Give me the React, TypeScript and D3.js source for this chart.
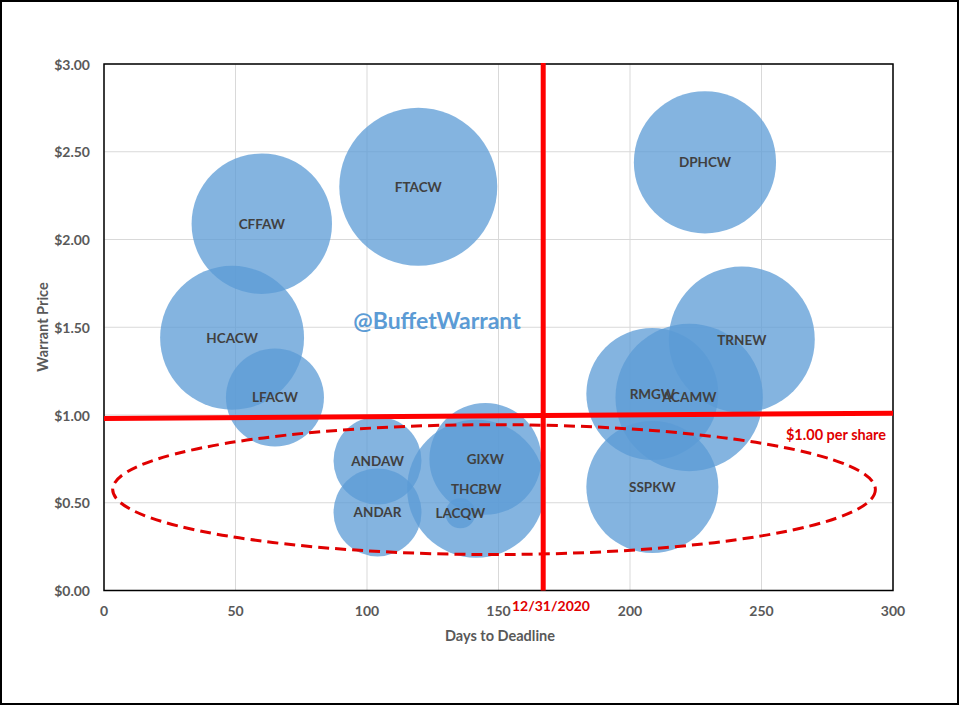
import React from "react";
import * as d3 from "d3";

const names = ["CFFAW", "FTACW", "DPHCW", "HCACW", "LFACW", "TRNEW", "RMGW", "ACAMW", "SSPKW", "ANDAW", "ANDAR", "GIXW", "THCBW", "LACQW"];
const days = [60, 119.5, 228.5, 48.7, 65, 242.5, 208.5, 222.5, 208.5, 104, 104, 145, 141.5, 135.5];
const prices = [2.09, 2.3, 2.44, 1.44, 1.1, 1.43, 1.12, 1.1, 0.59, 0.74, 0.445, 0.75, 0.58, 0.44];
const sizes = [79, 100, 81, 83, 38.5, 85.4, 69.8, 87, 69.8, 31, 31, 50.2, 76.3, 3.6];

const xTicks = [0, 50, 100, 150, 200, 250, 300];
const yTicks = [0, 0.5, 1, 1.5, 2, 2.5, 3];

const deadlineDay = 167;
const deadlineLabel = "12/31/2020";
const priceLine = [[0, 0.98], [300, 1.01]];
const priceLineLabel = "$1.00 per share";
const ellipseCenter = [148.3, 0.575];
const ellipseRadii = [145, 0.37];
const watermark = "@BuffetWarrant";

const W = 960, H = 720;
const L = 104, R = 893, T = 64, B = 590.5;
const font = "Lato, 'Open Sans', sans-serif";
const grey = "#595959";

export default function App() {
  const x = d3.scaleLinear().domain([0, 300]).range([L, R]);
  const y = d3.scaleLinear().domain([0, 3]).range([B, T]);
  const r = d3.scaleSqrt().domain([0, 100]).range([0, 79]);
  const fmt = (v: number) => "$" + d3.format(".2f")(v);
  const ex = x(ellipseCenter[0]), ey = y(ellipseCenter[1]);
  const erx = x(ellipseRadii[0]) - x(0), ery = y(0) - y(ellipseRadii[1]);

  return (
    <svg width={W} height={H} style={{ position: "absolute", left: 0, top: 0, display: "block" }} fontFamily={font}>
      <rect x={0} y={0} width={W} height={H} fill="#fff" />
      <rect x={1} y={1} width={957} height={703} fill="none" stroke="#000" strokeWidth={2} />
      {xTicks.map((t) => (
        <line key={"gx" + t} x1={x(t)} x2={x(t)} y1={T} y2={B} stroke="#d9d9d9" strokeWidth={1} />
      ))}
      {yTicks.map((t) => (
        <line key={"gy" + t} x1={L} x2={R} y1={y(t)} y2={y(t)} stroke="#d9d9d9" strokeWidth={1} />
      ))}
      <rect x={L} y={T} width={R - L} height={B - T} fill="none" stroke="#000" strokeWidth={1.5} />
      {names.map((n, i) => (
        <circle key={n} cx={x(days[i])} cy={y(prices[i])} r={r(sizes[i])} fill="#5B9BD5" fillOpacity={0.75} />
      ))}
      {names.map((n, i) => (
        <text key={"l" + n} x={x(days[i])} y={y(prices[i])} textAnchor="middle" dominantBaseline="central"
          fontSize={13.5} fontWeight="bold" fill="#404040">{n}</text>
      ))}
      <text x={437} y={320} textAnchor="middle" dominantBaseline="central" fontSize={23} fontWeight="bold" fill="#5B9BD5">{watermark}</text>
      <ellipse cx={ex} cy={ey} rx={erx} ry={ery} fill="none" stroke="#e00000" strokeWidth={3} strokeDasharray="11 6" />
      <line x1={x(priceLine[0][0])} y1={y(priceLine[0][1])} x2={x(priceLine[1][0])} y2={y(priceLine[1][1])} stroke="#ff0000" strokeWidth={5} />
      <line x1={x(deadlineDay)} x2={x(deadlineDay)} y1={T - 1} y2={B} stroke="#ff0000" strokeWidth={5} />
      <text x={836} y={434} textAnchor="middle" dominantBaseline="central" fontSize={14.5} fontWeight="bold" fill="#e00000">{priceLineLabel}</text>
      {xTicks.map((t) => (
        <text key={"tx" + t} x={x(t)} y={610} textAnchor="middle" dominantBaseline="central" fontSize={14} fontWeight="bold" fill={grey}>{t}</text>
      ))}
      {yTicks.map((t) => (
        <text key={"ty" + t} x={90} y={y(t)} textAnchor="end" dominantBaseline="central" fontSize={14} fontWeight="bold" fill={grey}>{fmt(t)}</text>
      ))}
      <text x={551} y={605} textAnchor="middle" dominantBaseline="central" fontSize={14} fontWeight="bold" fill="#e00000">{deadlineLabel}</text>
      <text x={500} y={635} textAnchor="middle" dominantBaseline="central" fontSize={14.5} fontWeight="bold" fill={grey}>Days to Deadline</text>
      <text transform={`translate(42,327) rotate(-90)`} textAnchor="middle" dominantBaseline="central" fontSize={14.5} fontWeight="bold" fill={grey}>Warrant Price</text>
    </svg>
  );
}
